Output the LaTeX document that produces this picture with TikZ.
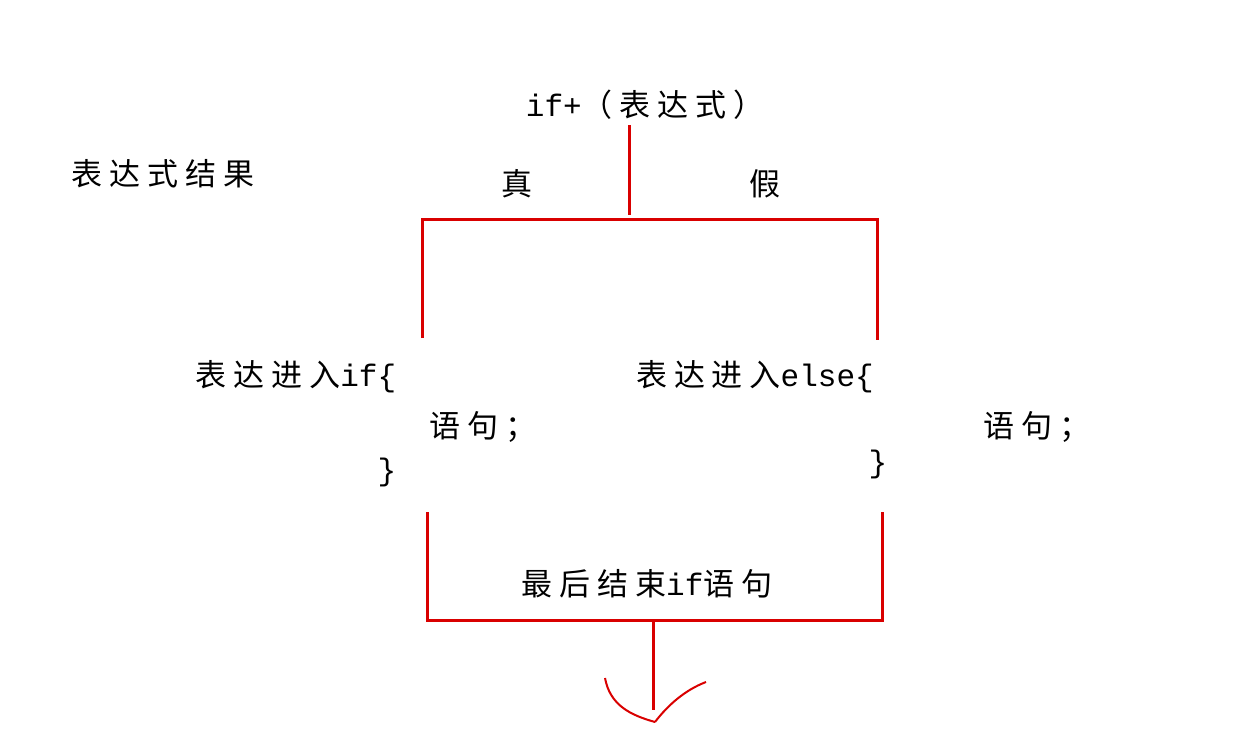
\documentclass[tikz,border=0pt]{standalone}
\usepackage{fontspec}
\setmainfont{Noto Sans CJK SC}[LetterSpace=22]
\newfontfamily\latf{Liberation Mono}
\newcommand{\lat}[1]{{\latf #1}}
\begin{document}
\begin{tikzpicture}[x=1pt,y=-1pt,
  lbl/.style={inner sep=0pt,font=\fontsize{31}{35}\selectfont},
  redline/.style={draw=red!85!black,line width=3pt}]
\useasboundingbox (0,0) rectangle (1240,739);
\node[lbl] (top) at (645,105) {\lat{if+}（表达式）};
\node[lbl] (res) at (163,174) {表达式结果};
\node[lbl] (t) at (517,184) {真};
\node[lbl] (f) at (765,184) {假};
\node[lbl] (ifb) at (296,377) {表达进入\lat{if\{}};
\node[lbl] (s1) at (483,427) {语句；};
\node[lbl] (c1) at (387,472) {\lat{\}}};
\node[lbl] (elb) at (755,377) {表达进入\lat{else\{}};
\node[lbl] (s2) at (1037,427) {语句；};
\node[lbl] (c2) at (878,464) {\lat{\}}};
\node[lbl] (end) at (647,584) {最后结束\lat{if}语句};
\coordinate (a1) at (629,125); \coordinate (a2) at (629,215);
\coordinate (l1) at (422,219); \coordinate (r1) at (877,219);
\coordinate (l2) at (422,338); \coordinate (r2) at (877,340);
\coordinate (l3) at (427,512); \coordinate (r3) at (882,512);
\coordinate (l4) at (427,620); \coordinate (r4) at (882,620);
\coordinate (m1) at (653,620); \coordinate (m2) at (653,710);
\coordinate (tip) at (655,722);
\draw[redline] (a1) -- (a2);
\draw[redline] (l2) -- (l1) -- (r1) -- (r2);
\draw[redline] (l3) -- (l4) -- (r4) -- (r3);
\draw[redline] (m1) -- (m2);
\draw[draw=red!85!black,line width=2pt] (605,678) .. controls (610,705) and (630,715) .. (tip);
\draw[draw=red!85!black,line width=2pt] (706,682) .. controls (685,690) and (668,705) .. (tip);
\end{tikzpicture}
\end{document}
